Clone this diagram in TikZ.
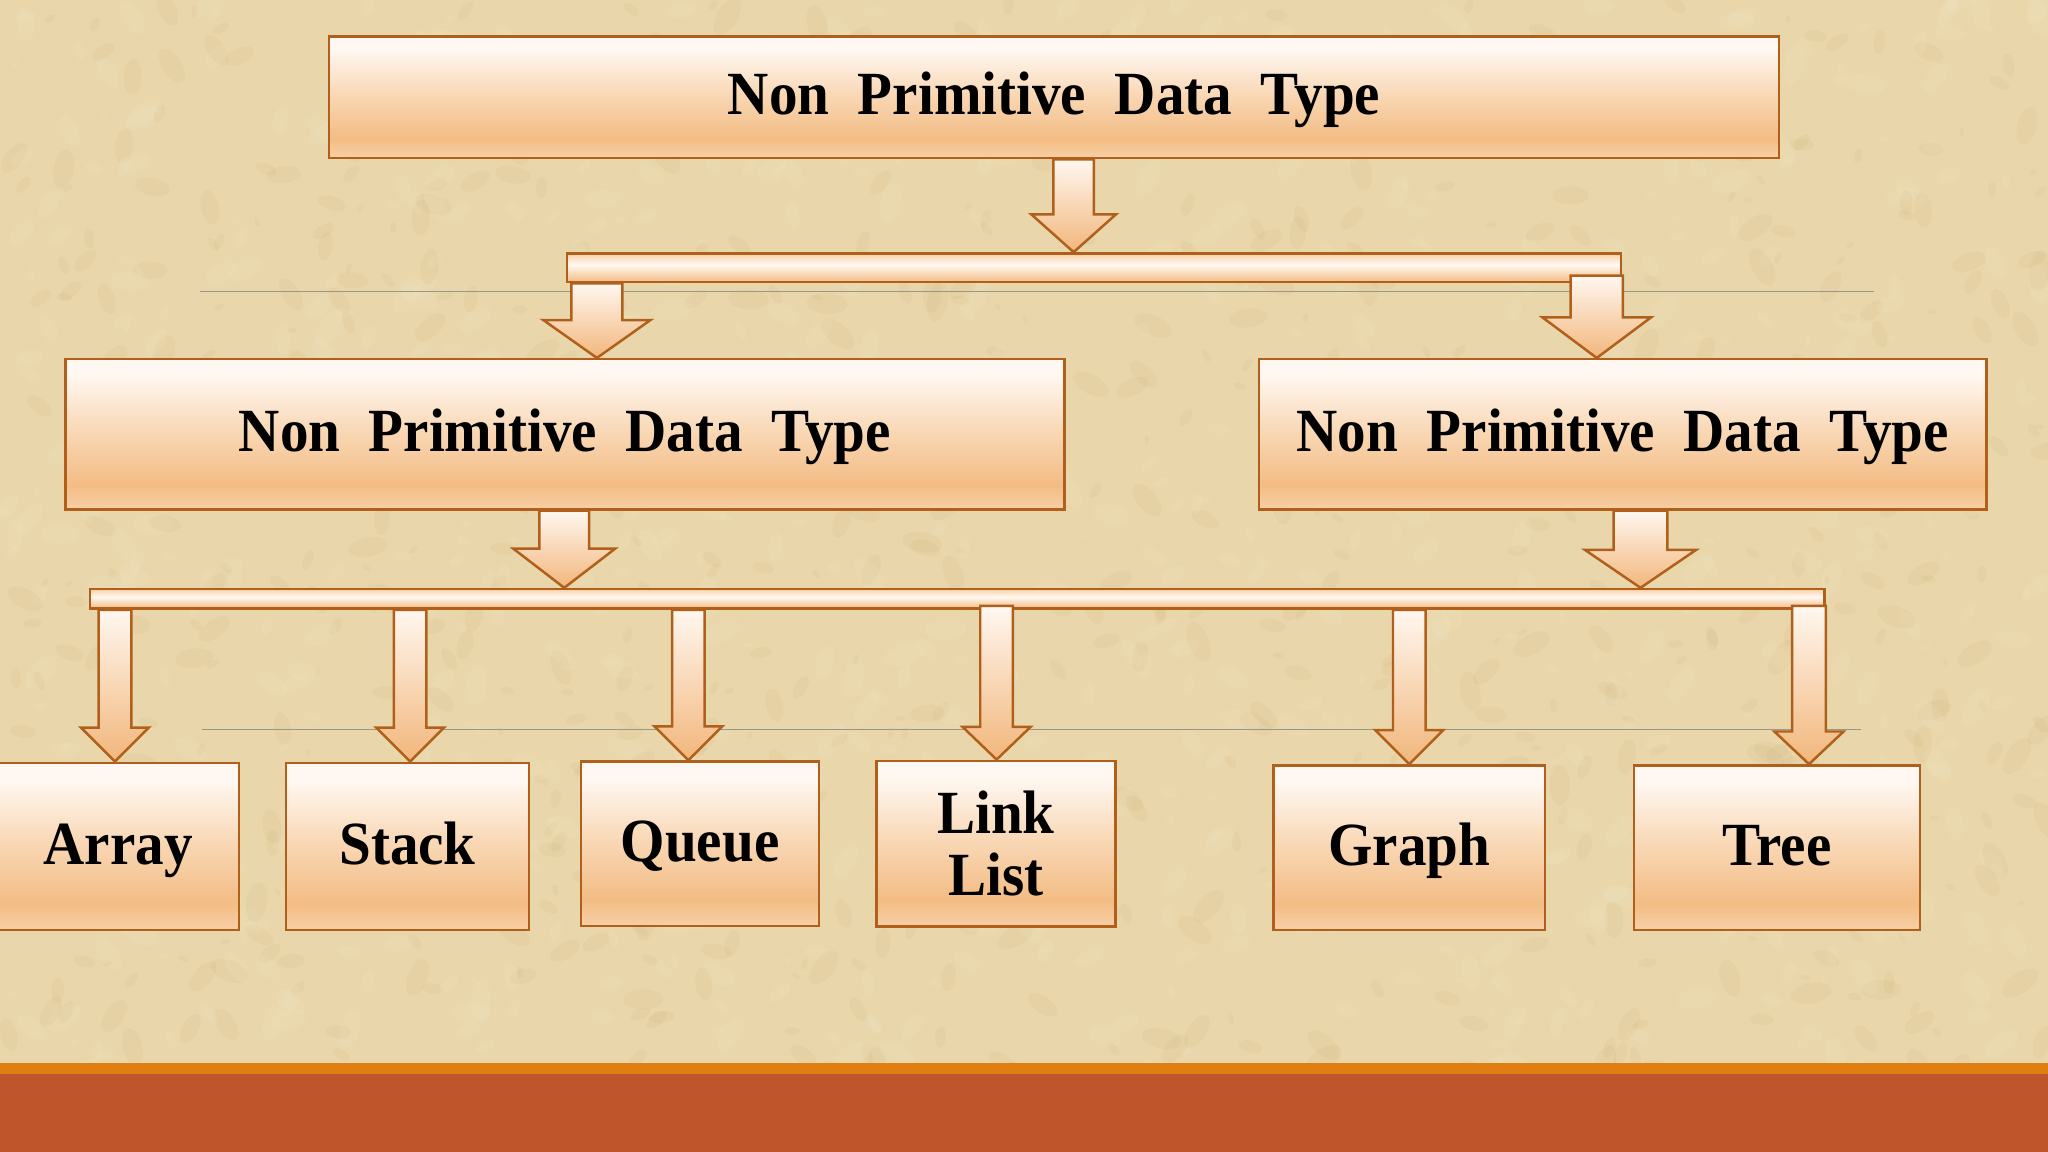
\documentclass[tikz,border=0pt]{standalone}
\usepackage{fontspec}
\newfontfamily\lsb{Liberation Serif}[FakeStretch=0.93]
\usetikzlibrary{calc}
\definecolor{bgbase}{HTML}{E9D7AB}
\definecolor{bgdark}{HTML}{C9A872}
\definecolor{bglight}{HTML}{F8EFD4}
\definecolor{edge}{HTML}{B0601A}
\definecolor{pk1}{HTML}{F7D0A6}
\definecolor{pk2}{HTML}{F3BC84}
\definecolor{pk3}{HTML}{F9D9B8}
\definecolor{pk4}{HTML}{FFF8F2}
\definecolor{arrtop}{HTML}{FFF7F0}
\definecolor{arrmid}{HTML}{F8D2AC}
\definecolor{arrbot}{HTML}{F2B67B}
\definecolor{guidegray}{HTML}{9A968C}
\definecolor{stripor}{HTML}{E07E12}
\definecolor{stripred}{HTML}{BE552B}
\pgfdeclareverticalshading{peachbox}{100bp}{color(0bp)=(pk1); color(25bp)=(pk1); color(33bp)=(pk2); color(52bp)=(pk3); color(70bp)=(pk4); color(75bp)=(pk4); color(100bp)=(pk4)}
\pgfdeclareverticalshading{barshade}{100bp}{color(0bp)=(pk2); color(25bp)=(pk2); color(40bp)=(pk3); color(55bp)=(pk4); color(75bp)=(pk1); color(100bp)=(pk1)}
\newcommand\lbl{\lsb\bfseries\fontsize{47}{47.5}\selectfont}
\newcommand\blockarrow[5]{%
  \path[blk] let \p1=(#1), \p2=(#2) in
   (\x2-#3,\y1) -- (\x2-#3,\y2+#5) -- (\x2-#4,\y2+#5) -- (\x2,\y2)
   -- (\x2+#4,\y2+#5) -- (\x2+#3,\y2+#5) -- (\x2+#3,\y1) -- cycle;}
\begin{document}
\begin{tikzpicture}[x=1pt,y=-1pt,
  box/.style={draw=edge, line width=1.9pt, shade, shading=peachbox, inner sep=0pt, font=\lbl},
  one/.style={text height=27pt, text depth=0pt},
  barbox/.style={draw=edge, line width=1.9pt, shade, shading=barshade, inner sep=0pt},
  blk/.style={draw=edge, line width=1.9pt, shade, top color=arrtop, middle color=arrmid, bottom color=arrbot, line join=miter},
  guide/.style={draw=guidegray, line width=0.8pt}]
\useasboundingbox (0,0) rectangle (1568,882);
% background
\fill[bgbase] (0,0) rectangle (1568,882);
\begin{scope}
\clip (0,0) rectangle (1568,814);
\pgfmathsetseed{12}
\foreach \i in {1,...,1500}{
  \pgfmathsetmacro\px{rnd*1568}
  \pgfmathsetmacro\py{rnd*830}
  \pgfmathsetmacro\pr{3+rnd*13}
  \pgfmathsetmacro\pa{rnd*180}
  \pgfmathsetmacro\pc{rnd}
  \ifdim\pc pt<0.5pt \def\bc{bgdark}\else\def\bc{bglight}\fi
  \fill[\bc, opacity=0.11, rotate around={\pa:(\px,\py)}] (\px,\py) ellipse ({\pr pt} and {0.5*\pr pt});
}
\end{scope}
\fill[stripor] (0,814) rectangle (1568,822);
\fill[stripred] (0,822) rectangle (1568,882);
% guide lines
\draw[guide] (153,223) -- (1435,223);
\draw[guide] (155,558.5) -- (1425,558.5);
% x positions
\coordinate (xA) at (822,0);
\coordinate (xL) at (457,0);
\coordinate (xR) at (1222.5,0);
\coordinate (xML) at (432,0);
\coordinate (xMR) at (1256,0);
\coordinate (x1) at (88,0);
\coordinate (x2) at (314,0);
\coordinate (x3) at (527,0);
\coordinate (x4) at (763,0);
\coordinate (x5) at (1079,0);
\coordinate (x6) at (1385,0);
% boxes
\node[box, one, minimum width=1110pt, minimum height=93pt] (top) at (807,74.5) {Non~~Primitive~~Data~~Type};
\node[barbox, minimum width=807pt, minimum height=22pt] (bar1) at (837.5,205) {};
\node[box, one, minimum width=765pt, minimum height=115pt] (ml) at (432.5,332.5) {Non~~Primitive~~Data~~Type};
\node[box, one, minimum width=557pt, minimum height=115pt] (mr) at (1242.5,332.5) {Non~~Primitive~~Data~~Type};
\node[barbox, minimum width=1328pt, minimum height=15pt] (bar2) at (733,458.5) {};
\node[box, one, minimum width=185pt, minimum height=128pt] (arr) at (90.5,648) {Array};
\node[box, one, minimum width=186pt, minimum height=128pt] (stk) at (312,648) {Stack};
\node[box, one, minimum width=182pt, minimum height=126pt] (que) at (536,646) {Queue};
\node[box, align=center, minimum width=183pt, minimum height=127pt] (lnk) at (762.5,646) {Link\\List};
\node[box, one, minimum width=208pt, minimum height=126pt] (gra) at (1079,649) {Graph};
\node[box, one, minimum width=219pt, minimum height=126pt] (tre) at (1360.5,649) {Tree};
% block arrows
\blockarrow{top.south -| xA}{bar1.north -| xA}{15.5pt}{32.5pt}{29pt}
\blockarrow{bar1.south -| xL}{ml.north -| xL}{19.5pt}{41pt}{29pt}
\blockarrow{$(bar1.south -| xR)+(0,-6)$}{mr.north -| xR}{20pt}{41.5pt}{31pt}
\blockarrow{ml.south -| xML}{bar2.north -| xML}{19pt}{39pt}{30pt}
\blockarrow{mr.south -| xMR}{bar2.north -| xMR}{20.5pt}{42.5pt}{29pt}
\blockarrow{bar2.south -| x1}{arr.north -| x1}{12.5pt}{26pt}{26pt}
\blockarrow{bar2.south -| x2}{stk.north -| x2}{12.5pt}{26pt}{26pt}
\blockarrow{bar2.south -| x3}{que.north -| x3}{12.5pt}{26pt}{26pt}
\blockarrow{$(bar2.south -| x4)+(0,-3)$}{lnk.north -| x4}{12.5pt}{26pt}{25pt}
\blockarrow{bar2.south -| x5}{gra.north -| x5}{12.5pt}{26pt}{26pt}
\blockarrow{$(bar2.south -| x6)+(0,-3)$}{tre.north -| x6}{13pt}{26.5pt}{25pt}
\end{tikzpicture}
\end{document}
